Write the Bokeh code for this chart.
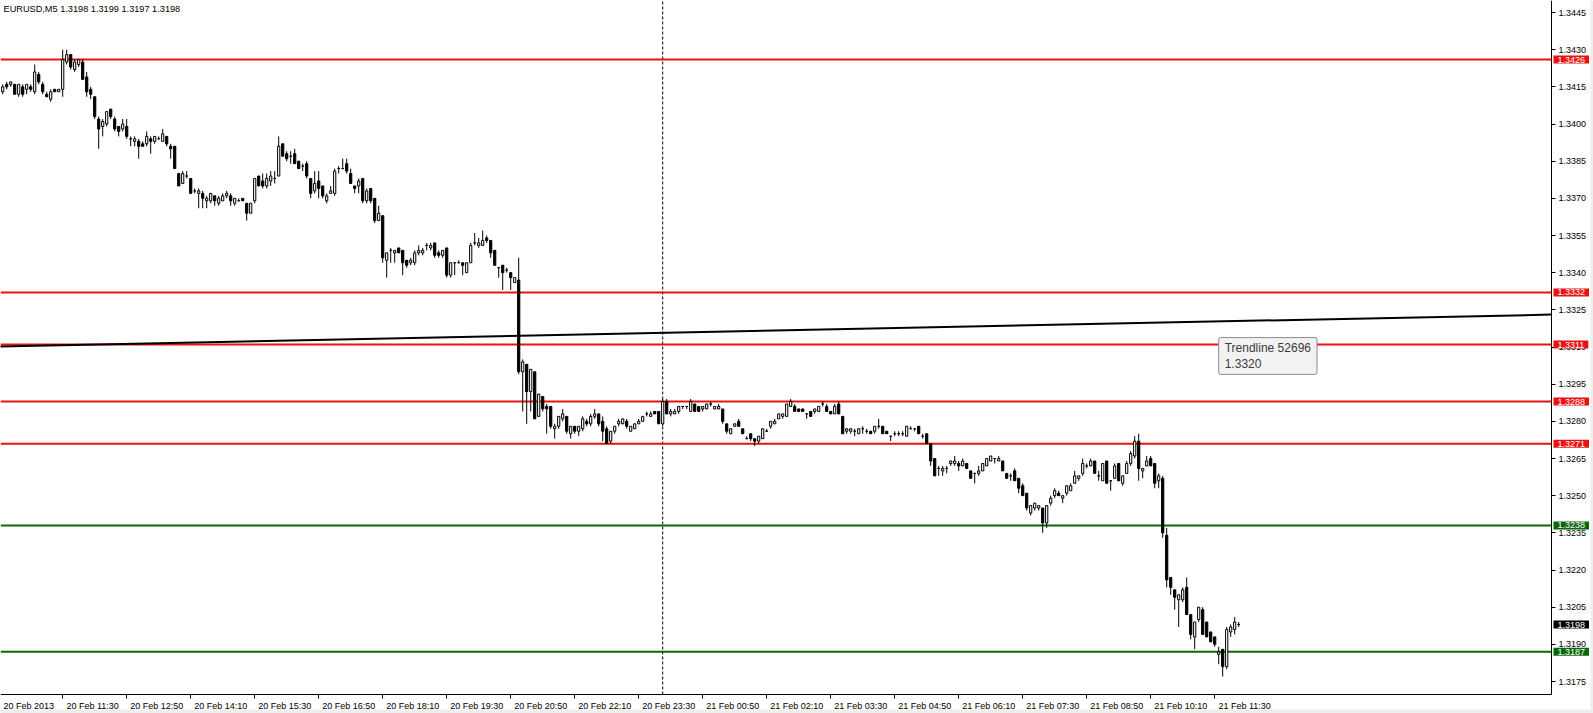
from bokeh.plotting import figure
from bokeh.models import (ColumnDataSource, FixedTicker, PrintfTickFormatter,
                          Label, Range1d, BoxAnnotation)
from bokeh.embed import file_html
from bokeh.resources import INLINE

# ---------------- data ----------------
symbol = "EURUSD,M5"
last_ohlc = ["1.3198", "1.3199", "1.3197", "1.3198"]

# 5-minute bars, index 0 = 20 Feb 2013 10:15 ... index 309 = 21 Feb 2013 12:00
opens = [
    1.3413, 1.3416, 1.3416, 1.3416, 1.3412, 1.3415, 1.3414, 1.3415, 1.3413, 1.3420,
    1.3416, 1.3412, 1.3410, 1.3414, 1.3413, 1.3414, 1.3425, 1.3428, 1.3422, 1.3424,
    1.3425, 1.3419, 1.3414, 1.3411, 1.3402, 1.3399, 1.3400, 1.3406, 1.3402, 1.3399,
    1.3398, 1.3399, 1.3394, 1.3393, 1.3393, 1.3392, 1.3392, 1.3394, 1.3393, 1.3394,
    1.3393, 1.3395, 1.3391, 1.3391, 1.3380, 1.3376, 1.3379, 1.3378, 1.3373, 1.3372,
    1.3372, 1.3369, 1.3369, 1.3371, 1.3368, 1.3369, 1.3371, 1.3371, 1.3368, 1.3369,
    1.3370, 1.3368, 1.3364, 1.3369, 1.3379, 1.3377, 1.3375, 1.3377, 1.3378, 1.3379,
    1.3392, 1.3388, 1.3387, 1.3388, 1.3385, 1.3383, 1.3384, 1.3378, 1.3373, 1.3377,
    1.3375, 1.3369, 1.3372, 1.3372, 1.3382, 1.3382, 1.3384, 1.3380, 1.3375, 1.3375,
    1.3378, 1.3369, 1.3374, 1.3370, 1.3361, 1.3363, 1.3345, 1.3349, 1.3348, 1.3350,
    1.3349, 1.3345, 1.3344, 1.3344, 1.3348, 1.3348, 1.3351, 1.3350, 1.3352, 1.3348,
    1.3347, 1.3350, 1.3339, 1.3344, 1.3344, 1.3344, 1.3340, 1.3344, 1.3352, 1.3351,
    1.3351, 1.3354, 1.3353, 1.3349, 1.3342, 1.3343, 1.3341, 1.3340, 1.3336, 1.3337,
    1.3300, 1.3303, 1.3292, 1.3300, 1.3282, 1.3290, 1.3286, 1.3286, 1.3277, 1.3278,
    1.3281, 1.3282, 1.3275, 1.3278, 1.3276, 1.3277, 1.3280, 1.3279, 1.3282, 1.3283,
    1.3280, 1.3277, 1.3272, 1.3276, 1.3279, 1.3279, 1.3280, 1.3276, 1.3277, 1.3279,
    1.3280, 1.3283, 1.3282, 1.3284, 1.3284, 1.3279, 1.3288, 1.3283, 1.3283, 1.3284,
    1.3286, 1.3286, 1.3284, 1.3287, 1.3286, 1.3285, 1.3285, 1.3287, 1.3285, 1.3285,
    1.3285, 1.3279, 1.3275, 1.3278, 1.3280, 1.3277, 1.3273, 1.3275, 1.3273, 1.3272,
    1.3273, 1.3276, 1.3278, 1.3279, 1.3281, 1.3282, 1.3282, 1.3286, 1.3286, 1.3285,
    1.3285, 1.3283, 1.3284, 1.3284, 1.3284, 1.3287, 1.3286, 1.3284, 1.3283, 1.3287,
    1.3282, 1.3276, 1.3276, 1.3276, 1.3275, 1.3277, 1.3276, 1.3276, 1.3276, 1.3278,
    1.3278, 1.3276, 1.3274, 1.3275, 1.3275, 1.3275, 1.3274, 1.3277, 1.3277, 1.3278,
    1.3274, 1.3275, 1.3271, 1.3265, 1.3261, 1.3260, 1.3261, 1.3263, 1.3263, 1.3263,
    1.3262, 1.3263, 1.3260, 1.3259, 1.3259, 1.3260, 1.3262, 1.3264, 1.3265, 1.3264,
    1.3264, 1.3259, 1.3258, 1.3260, 1.3257, 1.3254, 1.3251, 1.3243, 1.3245, 1.3245,
    1.3245, 1.3239, 1.3247, 1.3250, 1.3251, 1.3249, 1.3251, 1.3252, 1.3255, 1.3257,
    1.3259, 1.3262, 1.3262, 1.3264, 1.3258, 1.3256, 1.3264, 1.3256, 1.3257, 1.3263,
    1.3255, 1.3259, 1.3263, 1.3266, 1.3272, 1.3260, 1.3262, 1.3265, 1.3263, 1.3256,
    1.3257, 1.3234, 1.3217, 1.3212, 1.3208, 1.3208, 1.3213, 1.3202, 1.3193, 1.3200,
    1.3204, 1.3199, 1.3195, 1.3193, 1.3186, 1.3188, 1.3181, 1.3195, 1.3196, 1.3198,
]
highs = [
    1.3416, 1.3417, 1.3417, 1.3416, 1.3416, 1.3416, 1.3416, 1.3416, 1.3424, 1.3421,
    1.3417, 1.3413, 1.3414, 1.3414, 1.3414, 1.3430, 1.3430, 1.3428, 1.3426, 1.3426,
    1.3426, 1.3421, 1.3415, 1.3411, 1.3403, 1.3402, 1.3405, 1.3406, 1.3403, 1.3399,
    1.3402, 1.3402, 1.3395, 1.3395, 1.3394, 1.3393, 1.3397, 1.3395, 1.3395, 1.3395,
    1.3398, 1.3395, 1.3392, 1.3391, 1.3380, 1.3381, 1.3381, 1.3378, 1.3374, 1.3374,
    1.3373, 1.3371, 1.3372, 1.3371, 1.3371, 1.3372, 1.3373, 1.3372, 1.3370, 1.3370,
    1.3370, 1.3368, 1.3368, 1.3378, 1.3379, 1.3380, 1.3380, 1.3381, 1.3381, 1.3395,
    1.3392, 1.3389, 1.3389, 1.3390, 1.3385, 1.3384, 1.3385, 1.3378, 1.3381, 1.3381,
    1.3375, 1.3372, 1.3375, 1.3382, 1.3383, 1.3386, 1.3386, 1.3382, 1.3375, 1.3378,
    1.3378, 1.3374, 1.3374, 1.3370, 1.3367, 1.3363, 1.3348, 1.3350, 1.3349, 1.3350,
    1.3349, 1.3345, 1.3346, 1.3349, 1.3351, 1.3350, 1.3352, 1.3352, 1.3352, 1.3349,
    1.3349, 1.3350, 1.3344, 1.3344, 1.3345, 1.3344, 1.3344, 1.3352, 1.3356, 1.3354,
    1.3357, 1.3355, 1.3353, 1.3349, 1.3342, 1.3343, 1.3342, 1.3340, 1.3338, 1.3346,
    1.3305, 1.3303, 1.3301, 1.3300, 1.3291, 1.3290, 1.3287, 1.3286, 1.3279, 1.3282,
    1.3285, 1.3282, 1.3278, 1.3278, 1.3278, 1.3282, 1.3281, 1.3283, 1.3285, 1.3283,
    1.3282, 1.3278, 1.3276, 1.3278, 1.3281, 1.3281, 1.3281, 1.3278, 1.3279, 1.3281,
    1.3282, 1.3284, 1.3284, 1.3284, 1.3284, 1.3289, 1.3289, 1.3285, 1.3285, 1.3286,
    1.3286, 1.3286, 1.3289, 1.3287, 1.3286, 1.3286, 1.3287, 1.3288, 1.3286, 1.3287,
    1.3285, 1.3279, 1.3277, 1.3279, 1.3281, 1.3277, 1.3274, 1.3275, 1.3273, 1.3274,
    1.3277, 1.3277, 1.3280, 1.3281, 1.3283, 1.3283, 1.3287, 1.3289, 1.3287, 1.3285,
    1.3285, 1.3283, 1.3284, 1.3285, 1.3286, 1.3288, 1.3287, 1.3284, 1.3287, 1.3288,
    1.3282, 1.3277, 1.3277, 1.3277, 1.3277, 1.3278, 1.3277, 1.3276, 1.3278, 1.3281,
    1.3278, 1.3276, 1.3274, 1.3276, 1.3276, 1.3276, 1.3278, 1.3278, 1.3277, 1.3278,
    1.3275, 1.3275, 1.3271, 1.3265, 1.3262, 1.3262, 1.3262, 1.3264, 1.3266, 1.3264,
    1.3265, 1.3263, 1.3260, 1.3259, 1.3262, 1.3263, 1.3265, 1.3266, 1.3265, 1.3266,
    1.3264, 1.3259, 1.3259, 1.3261, 1.3257, 1.3255, 1.3251, 1.3246, 1.3247, 1.3246,
    1.3245, 1.3246, 1.3250, 1.3253, 1.3252, 1.3250, 1.3254, 1.3255, 1.3260, 1.3258,
    1.3265, 1.3263, 1.3265, 1.3264, 1.3260, 1.3263, 1.3264, 1.3256, 1.3263, 1.3263,
    1.3258, 1.3264, 1.3268, 1.3274, 1.3275, 1.3261, 1.3266, 1.3266, 1.3263, 1.3259,
    1.3258, 1.3237, 1.3217, 1.3212, 1.3210, 1.3213, 1.3217, 1.3202, 1.3199, 1.3205,
    1.3205, 1.3199, 1.3195, 1.3193, 1.3189, 1.3188, 1.3197, 1.3198, 1.3201, 1.3199,
]
lows = [
    1.3412, 1.3414, 1.3415, 1.3412, 1.3411, 1.3411, 1.3412, 1.3413, 1.3412, 1.3416,
    1.3412, 1.3411, 1.3409, 1.3413, 1.3413, 1.3411, 1.3424, 1.3422, 1.3421, 1.3423,
    1.3418, 1.3411, 1.3410, 1.3402, 1.3390, 1.3395, 1.3399, 1.3402, 1.3397, 1.3395,
    1.3397, 1.3394, 1.3391, 1.3391, 1.3386, 1.3391, 1.3391, 1.3388, 1.3392, 1.3394,
    1.3393, 1.3391, 1.3386, 1.3382, 1.3375, 1.3376, 1.3378, 1.3372, 1.3372, 1.3366,
    1.3366, 1.3366, 1.3368, 1.3367, 1.3367, 1.3369, 1.3370, 1.3367, 1.3367, 1.3369,
    1.3369, 1.3361, 1.3364, 1.3368, 1.3375, 1.3374, 1.3374, 1.3375, 1.3376, 1.3379,
    1.3387, 1.3385, 1.3384, 1.3384, 1.3382, 1.3381, 1.3378, 1.3370, 1.3372, 1.3370,
    1.3370, 1.3368, 1.3372, 1.3371, 1.3380, 1.3382, 1.3380, 1.3376, 1.3372, 1.3372,
    1.3368, 1.3368, 1.3368, 1.3360, 1.3361, 1.3344, 1.3338, 1.3344, 1.3344, 1.3348,
    1.3339, 1.3342, 1.3343, 1.3343, 1.3347, 1.3347, 1.3349, 1.3349, 1.3346, 1.3346,
    1.3346, 1.3338, 1.3338, 1.3339, 1.3344, 1.3339, 1.3340, 1.3344, 1.3351, 1.3350,
    1.3351, 1.3352, 1.3346, 1.3343, 1.3338, 1.3333, 1.3340, 1.3333, 1.3336, 1.3299,
    1.3284, 1.3279, 1.3284, 1.3281, 1.3282, 1.3284, 1.3275, 1.3277, 1.3273, 1.3277,
    1.3280, 1.3275, 1.3273, 1.3275, 1.3274, 1.3276, 1.3278, 1.3278, 1.3281, 1.3278,
    1.3272, 1.3271, 1.3271, 1.3275, 1.3278, 1.3279, 1.3277, 1.3276, 1.3277, 1.3279,
    1.3280, 1.3282, 1.3282, 1.3283, 1.3279, 1.3278, 1.3283, 1.3282, 1.3283, 1.3283,
    1.3285, 1.3285, 1.3284, 1.3284, 1.3284, 1.3284, 1.3285, 1.3286, 1.3285, 1.3285,
    1.3279, 1.3275, 1.3275, 1.3278, 1.3278, 1.3275, 1.3273, 1.3272, 1.3270, 1.3271,
    1.3273, 1.3276, 1.3277, 1.3279, 1.3281, 1.3281, 1.3282, 1.3286, 1.3284, 1.3284,
    1.3284, 1.3281, 1.3282, 1.3283, 1.3284, 1.3286, 1.3284, 1.3283, 1.3283, 1.3283,
    1.3275, 1.3275, 1.3275, 1.3274, 1.3275, 1.3275, 1.3275, 1.3275, 1.3275, 1.3277,
    1.3275, 1.3275, 1.3272, 1.3274, 1.3274, 1.3274, 1.3274, 1.3277, 1.3276, 1.3275,
    1.3273, 1.3271, 1.3262, 1.3258, 1.3258, 1.3258, 1.3259, 1.3262, 1.3262, 1.3260,
    1.3262, 1.3261, 1.3257, 1.3255, 1.3258, 1.3260, 1.3262, 1.3264, 1.3263, 1.3264,
    1.3260, 1.3257, 1.3256, 1.3256, 1.3251, 1.3250, 1.3244, 1.3242, 1.3244, 1.3244,
    1.3235, 1.3237, 1.3246, 1.3249, 1.3250, 1.3247, 1.3250, 1.3252, 1.3255, 1.3256,
    1.3258, 1.3261, 1.3262, 1.3259, 1.3256, 1.3256, 1.3255, 1.3252, 1.3257, 1.3256,
    1.3254, 1.3259, 1.3262, 1.3265, 1.3256, 1.3257, 1.3262, 1.3262, 1.3253, 1.3253,
    1.3233, 1.3213, 1.3210, 1.3204, 1.3197, 1.3207, 1.3202, 1.3192, 1.3188, 1.3199,
    1.3194, 1.3193, 1.3191, 1.3189, 1.3182, 1.3177, 1.3180, 1.3193, 1.3194, 1.3197,
]
closes = [
    1.3415, 1.3415, 1.3417, 1.3412, 1.3416, 1.3412, 1.3416, 1.3414, 1.3421, 1.3417,
    1.3413, 1.3411, 1.3413, 1.3413, 1.3414, 1.3426, 1.3428, 1.3423, 1.3425, 1.3426,
    1.3418, 1.3413, 1.3412, 1.3403, 1.3398, 1.3401, 1.3405, 1.3403, 1.3398, 1.3397,
    1.3400, 1.3395, 1.3394, 1.3394, 1.3391, 1.3391, 1.3395, 1.3393, 1.3395, 1.3394,
    1.3396, 1.3392, 1.3390, 1.3382, 1.3375, 1.3380, 1.3379, 1.3372, 1.3373, 1.3373,
    1.3370, 1.3370, 1.3372, 1.3369, 1.3370, 1.3371, 1.3372, 1.3369, 1.3370, 1.3369,
    1.3369, 1.3364, 1.3368, 1.3378, 1.3375, 1.3375, 1.3378, 1.3379, 1.3378, 1.3391,
    1.3387, 1.3386, 1.3387, 1.3384, 1.3382, 1.3383, 1.3379, 1.3372, 1.3376, 1.3374,
    1.3371, 1.3371, 1.3373, 1.3381, 1.3382, 1.3382, 1.3381, 1.3376, 1.3374, 1.3377,
    1.3369, 1.3373, 1.3369, 1.3361, 1.3364, 1.3346, 1.3348, 1.3349, 1.3349, 1.3348,
    1.3344, 1.3343, 1.3345, 1.3348, 1.3349, 1.3349, 1.3351, 1.3351, 1.3347, 1.3347,
    1.3349, 1.3339, 1.3344, 1.3344, 1.3344, 1.3343, 1.3344, 1.3351, 1.3352, 1.3352,
    1.3353, 1.3353, 1.3348, 1.3343, 1.3342, 1.3340, 1.3341, 1.3338, 1.3338, 1.3300,
    1.3304, 1.3292, 1.3301, 1.3281, 1.3291, 1.3285, 1.3285, 1.3278, 1.3278, 1.3282,
    1.3283, 1.3276, 1.3278, 1.3276, 1.3278, 1.3281, 1.3279, 1.3282, 1.3283, 1.3279,
    1.3276, 1.3271, 1.3276, 1.3278, 1.3280, 1.3281, 1.3278, 1.3278, 1.3279, 1.3280,
    1.3282, 1.3283, 1.3283, 1.3283, 1.3279, 1.3288, 1.3283, 1.3284, 1.3284, 1.3286,
    1.3286, 1.3286, 1.3288, 1.3284, 1.3284, 1.3286, 1.3287, 1.3287, 1.3286, 1.3286,
    1.3280, 1.3276, 1.3277, 1.3279, 1.3278, 1.3275, 1.3273, 1.3273, 1.3272, 1.3274,
    1.3277, 1.3276, 1.3280, 1.3280, 1.3283, 1.3283, 1.3287, 1.3288, 1.3284, 1.3284,
    1.3284, 1.3283, 1.3282, 1.3285, 1.3286, 1.3287, 1.3284, 1.3283, 1.3286, 1.3283,
    1.3275, 1.3277, 1.3277, 1.3276, 1.3277, 1.3277, 1.3276, 1.3275, 1.3278, 1.3278,
    1.3275, 1.3275, 1.3274, 1.3275, 1.3275, 1.3275, 1.3278, 1.3277, 1.3277, 1.3275,
    1.3274, 1.3271, 1.3264, 1.3258, 1.3261, 1.3261, 1.3261, 1.3264, 1.3264, 1.3262,
    1.3264, 1.3261, 1.3257, 1.3259, 1.3260, 1.3263, 1.3265, 1.3266, 1.3265, 1.3265,
    1.3260, 1.3257, 1.3258, 1.3256, 1.3253, 1.3250, 1.3245, 1.3246, 1.3247, 1.3246,
    1.3239, 1.3246, 1.3249, 1.3252, 1.3250, 1.3250, 1.3254, 1.3254, 1.3258, 1.3258,
    1.3263, 1.3262, 1.3264, 1.3259, 1.3258, 1.3263, 1.3255, 1.3256, 1.3262, 1.3256,
    1.3258, 1.3263, 1.3267, 1.3272, 1.3261, 1.3261, 1.3264, 1.3262, 1.3255, 1.3258,
    1.3235, 1.3216, 1.3213, 1.3209, 1.3210, 1.3212, 1.3202, 1.3194, 1.3199, 1.3205,
    1.3194, 1.3193, 1.3191, 1.3190, 1.3187, 1.3181, 1.3196, 1.3197, 1.3199, 1.3198,
]

# horizontal levels
resistance_levels = [1.3426, 1.3332, 1.3311, 1.3288, 1.3271]
support_levels = [1.3238, 1.3187]
current_price = 1.3198

# trendline anchors (bar index, price) and its tooltip
trend_x = [-1.0, 388.0]
trend_y = [1.33102, 1.33231]
trend_name = "Trendline 52696"
trend_value = "1.3320"

# period separator (21 Feb 00:00)
separator_bar = 165

# time axis
x_tick_bars = [-1, 15, 31, 47, 63, 79, 95, 111, 127, 143, 159, 175, 191, 207,
               223, 239, 255, 271, 287, 303]
x_tick_labels = ["20 Feb 2013", "20 Feb 11:30", "20 Feb 12:50", "20 Feb 14:10",
                 "20 Feb 15:30", "20 Feb 16:50", "20 Feb 18:10", "20 Feb 19:30",
                 "20 Feb 20:50", "20 Feb 22:10", "20 Feb 23:30", "21 Feb 00:50",
                 "21 Feb 02:10", "21 Feb 03:30", "21 Feb 04:50", "21 Feb 06:10",
                 "21 Feb 07:30", "21 Feb 08:50", "21 Feb 10:10", "21 Feb 11:30"]
y_ticks = [1.3175, 1.3190, 1.3205, 1.3220, 1.3235, 1.3250, 1.3265, 1.3280,
           1.3295, 1.3310, 1.3325, 1.3340, 1.3355, 1.3370, 1.3385, 1.3400,
           1.3415, 1.3430, 1.3445]

# ---------------- layout / styling ----------------
RED = "#e81212"
GREEN = "#0a660a"
FONT = "Liberation Sans"
W, H = 1593, 713
PPB = 4.0                       # pixels per bar
X_START = -0.55
X_END = X_START + W / PPB
AXIS_X = X_START + 1551 / PPB   # price-axis line (inside the frame)
PPU = 24778.0                   # pixels per price unit
Y_END = 1.3445 + 12 / PPU
Y_START = Y_END - H / PPU
AXIS_Y = Y_END - 694 / PPU      # time-axis line (inside the frame)

n = len(closes)
bars = list(range(n))
body_top = [max(o, c) for o, c in zip(opens, closes)]
body_bot = [min(o, c) for o, c in zip(opens, closes)]
fills = ["white" if c > o else "black" for o, c in zip(opens, closes)]
src = ColumnDataSource(dict(x=bars, o=opens, h=highs, l=lows, c=closes,
                            top=body_top, bot=body_bot, fill=fills))

p = figure(width=W, height=H, output_backend="svg", toolbar_location=None,
           x_range=Range1d(X_START, X_END), y_range=Range1d(Y_START, Y_END),
           y_axis_location="right", x_axis_location="below", min_border=0)
p.grid.visible = False
p.outline_line_color = None
p.background_fill_color = "white"
p.border_fill_color = "white"

# window edge strips (under everything)
p.add_layout(BoxAnnotation(left=X_START + 1590 / PPB, fill_color="#eeeeee",
                           fill_alpha=1, line_alpha=0, level="underlay"))
p.add_layout(BoxAnnotation(top=Y_END - 709 / PPU, fill_color="#eeeeee",
                           fill_alpha=1, line_alpha=0, level="underlay"))

# period separator
p.segment(x0=[separator_bar], y0=[AXIS_Y], x1=[separator_bar], y1=[Y_END],
          line_color="black", line_width=1, line_dash="3 2")

# horizontal levels
n_r, n_s = len(resistance_levels), len(support_levels)
p.segment(x0=[X_START] * n_r, x1=[AXIS_X] * n_r, y0=resistance_levels,
          y1=resistance_levels, line_color=RED, line_width=2)
p.segment(x0=[X_START] * n_s, x1=[AXIS_X] * n_s, y0=support_levels,
          y1=support_levels, line_color=GREEN, line_width=2)

# trendline (ray clipped at the price axis)
slope = (trend_y[1] - trend_y[0]) / (trend_x[1] - trend_x[0])
tx = [trend_x[0], AXIS_X]
ty = [trend_y[0], trend_y[0] + slope * (AXIS_X - trend_x[0])]
p.line(tx, ty, line_color="black", line_width=2)

# candles
p.segment(x0="x", y0="l", x1="x", y1="h", source=src, line_color="black", line_width=1)
p.vbar(x="x", width=0.55, top="top", bottom="bot", source=src,
       fill_color="fill", line_color="black", line_width=1)

# price axis, drawn inside the frame at AXIS_X
ya = p.yaxis[0]
ya.fixed_location = AXIS_X
ya.bounds = (AXIS_Y, Y_END)
ya.ticker = FixedTicker(ticks=y_ticks)
ya.formatter = PrintfTickFormatter(format="%.4f")
ya.axis_line_color = "black"
ya.major_tick_out = 4
ya.major_tick_in = 0
ya.minor_tick_out = 0
ya.minor_tick_in = 0
ya.major_label_standoff = 3
ya.major_label_text_font = FONT
ya.major_label_text_font_size = "9px"
ya.major_label_text_color = "black"

# time axis, labels start at their tick (MT4 style)
LABEL_SHIFT = 7.5
xa = p.xaxis[0]
xa.fixed_location = AXIS_Y
xa.bounds = (X_START, AXIS_X)
centers = [t + LABEL_SHIFT for t in x_tick_bars]
xa.ticker = FixedTicker(ticks=centers, minor_ticks=x_tick_bars)
xa.major_label_overrides = {c: lab for c, lab in zip(centers, x_tick_labels)}
xa.axis_line_color = "black"
xa.major_tick_out = 0
xa.major_tick_in = 0
xa.minor_tick_out = 4
xa.minor_tick_in = 0
xa.minor_tick_line_color = "black"
xa.major_label_standoff = 2
xa.major_label_text_font = FONT
xa.major_label_text_font_size = "9px"
xa.major_label_text_color = "black"

# price tags on the axis
def tag(level, color):
    p.add_layout(Label(x=AXIS_X, y=level, text=f"{level:.4f}", x_offset=2,
                       text_align="left", text_baseline="middle",
                       text_font=FONT, text_font_size="9px", text_color="white",
                       background_fill_color=color, padding=(4, 1)))

for lv in resistance_levels:
    tag(lv, RED)
for lv in support_levels:
    tag(lv, GREEN)
tag(current_price, "black")

# header
p.add_layout(Label(x=X_START, y=Y_END, x_offset=3, y_offset=-3,
                   text=symbol + "  " + " ".join(last_ohlc),
                   text_align="left", text_baseline="top",
                   text_font=FONT, text_font_size="9.2px", text_color="black"))

# trendline tooltip
p.add_layout(Label(x=304.0, y=1.33138, text=trend_name + "\n" + trend_value,
                   text_align="left", text_baseline="top",
                   text_font=FONT, text_font_size="12px", text_color="#3a3a3a",
                   background_fill_color="#f2f2f2", border_line_color="#8c8c8c",
                   border_line_width=1, border_radius=2, padding=(6, 3)))

open("out.html", "w").write(file_html(p, INLINE))
